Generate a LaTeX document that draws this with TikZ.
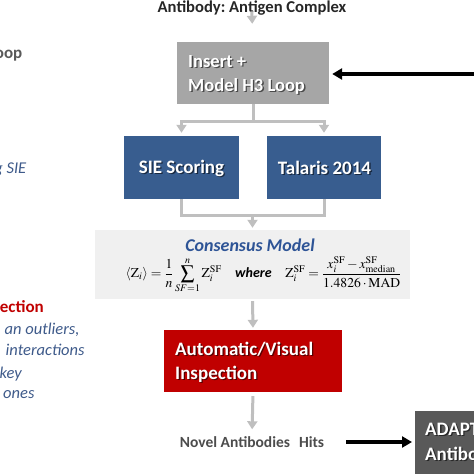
\documentclass[tikz,border=0pt]{standalone}
\usepackage{mathptmx}
\usepackage[no-math]{fontspec}
\setmainfont{Carlito}
\usetikzlibrary{arrows.meta,calc}
\definecolor{boxgray}{HTML}{A6A6A6}
\definecolor{boxblue}{HTML}{385D8F}
\definecolor{boxred}{HTML}{C00000}
\definecolor{boxdark}{HTML}{595959}
\definecolor{formbg}{HTML}{F0F0F0}
\definecolor{linegray}{HTML}{BFBFBF}
\definecolor{titleblue}{HTML}{2E5496}
\definecolor{noteblue}{HTML}{3E5A8A}
\definecolor{darktext}{HTML}{262626}
\newcommand\shnode[3]{%
  \node[#2, text=black, opacity=0.55] at ($#1+(1.3,1.3)$) {#3};
  \node[#2, text=white] at #1 {#3};}
\tikzset{
  boxbase/.style={rectangle, draw=none, inner sep=0pt},
  gline/.style={draw=linegray, line width=3pt},
  garrow/.style={gline, -{Triangle[width=10pt,length=8pt]}},
  karrow/.style={draw=black, line width=3.2pt, -{Triangle[width=11pt,length=10pt]}},
  btxt/.style={font=\fontsize{19}{24}\selectfont\bfseries, align=left, inner sep=0pt},
  note/.style={font=\fontsize{16.5}{20}\selectfont\itshape, text=noteblue, inner sep=0pt},
}
\begin{document}
\begin{tikzpicture}[x=1pt,y=-1pt]
\useasboundingbox (0,0) rectangle (474,474);
\clip (0,0) rectangle (474,474);

% title
\node[font=\fontsize{16.6}{19}\selectfont\bfseries, text=darktext, inner sep=1pt] (title) at (252,8) {Antibody:\ Antigen Complex};

% boxes
\node[boxbase, fill=boxgray, minimum width=152pt, minimum height=62pt] (insert) at (253,73) {};
\shnode{(188,75)}{btxt, anchor=west, font=\fontsize{18.5}{24}\selectfont\bfseries}{Insert +\\Model H3 Loop}

\node[boxbase, fill=boxblue, minimum width=115pt, minimum height=63pt] (sie) at (181.5,167.5) {};
\shnode{(181.5,168)}{btxt}{SIE Scoring}
\node[boxbase, fill=boxblue, minimum width=114pt, minimum height=63pt] (tal) at (324,167.5) {};
\shnode{(324.5,168)}{btxt}{Talaris 2014}

\node[boxbase, fill=formbg, minimum width=315pt, minimum height=69pt] (cons) at (252.5,264.5) {};
\node[font=\fontsize{18}{22}\selectfont\bfseries\itshape, text=titleblue, inner sep=0pt] (constitle) at (250,245) {Consensus Model};
\node[inner sep=0pt] (formula) at (263.5,275) {\fontsize{13.6}{16}\selectfont$\displaystyle
  \left\langle \mathrm{Z}_{i} \right\rangle = \frac{1}{n}\sum_{SF=1}^{n} \mathrm{Z}_{i}^{\mathrm{SF}}
  \quad\hbox{\fontsize{14}{16}\selectfont\bfseries\itshape where}\quad
  \mathrm{Z}_{i}^{\mathrm{SF}} = \frac{x_i^{\mathrm{SF}} - x_{\mathrm{median}}^{\mathrm{SF}}}{1.4826\cdot \mathrm{MAD}}$};

\node[boxbase, fill=boxred, minimum width=178pt, minimum height=62pt] (insp) at (253,361) {};
\shnode{(175,362)}{btxt, anchor=west}{Automatic/Visual\\Inspection}

\node[font=\fontsize{15.5}{19}\selectfont\bfseries, text=boxdark!85!black, inner sep=1pt] (novel) at (252,442) {Novel Antibodies\hspace{0.35em} Hits};

\node[boxbase, fill=boxdark, minimum width=120pt, minimum height=80pt, anchor=north west] (adapt) at (415,411) {};
\shnode{(425,443)}{btxt, anchor=west, font=\fontsize{19}{25}\selectfont\bfseries}{ADAPT\\Antibody}

% connectors
\coordinate (j1) at (253,121);
\coordinate (j2) at (252.5,215);
\draw[gline] (insert.south) -- (j1);
\draw[garrow, shorten >=3pt] (j1) -| (sie.north);
\draw[garrow, shorten >=3pt] (j1) -| (tal.north);
\draw[gline] (sie.south) |- (j2) -| (tal.south);
\draw[garrow, shorten >=2pt] (j2) -- (cons.north);
\draw[garrow, shorten <=2pt, shorten >=2pt] (cons.south) -- (insp.north);
\draw[garrow, shorten <=4pt, shorten >=6pt] (insp.south) -- (novel.north);
\draw[garrow, shorten <=5pt, shorten >=18pt] (title.south) -- (insert.north);
\coordinate (rin) at (480,74);
\draw[karrow, shorten >=3pt] (rin) -- (insert.east |- rin);
\draw[karrow, shorten <=21pt, shorten >=3pt] (novel.east) -- (adapt.west |- novel.east);

% clipped side texts
\node[font=\fontsize{17}{20}\selectfont\bfseries, text=boxdark, anchor=east, inner sep=0pt] (loop) at (22.5,54) {Loop};
\node[note, anchor=east] (usesie) at (26.5,169) {using SIE};
\node[font=\fontsize{17}{20}\selectfont\bfseries, text=boxred, anchor=east, inner sep=0pt] (inspl) at (44,308) {Inspection};
\node[note, anchor=west] (n1) at (4.5,330) {an outliers,};
\node[note, anchor=west] (n2) at (5.5,349.5) {interactions};
\node[note, anchor=east] (n3) at (22,374) {key};
\node[note, anchor=west] (n4) at (3,395) {ones};
\end{tikzpicture}
\end{document}
